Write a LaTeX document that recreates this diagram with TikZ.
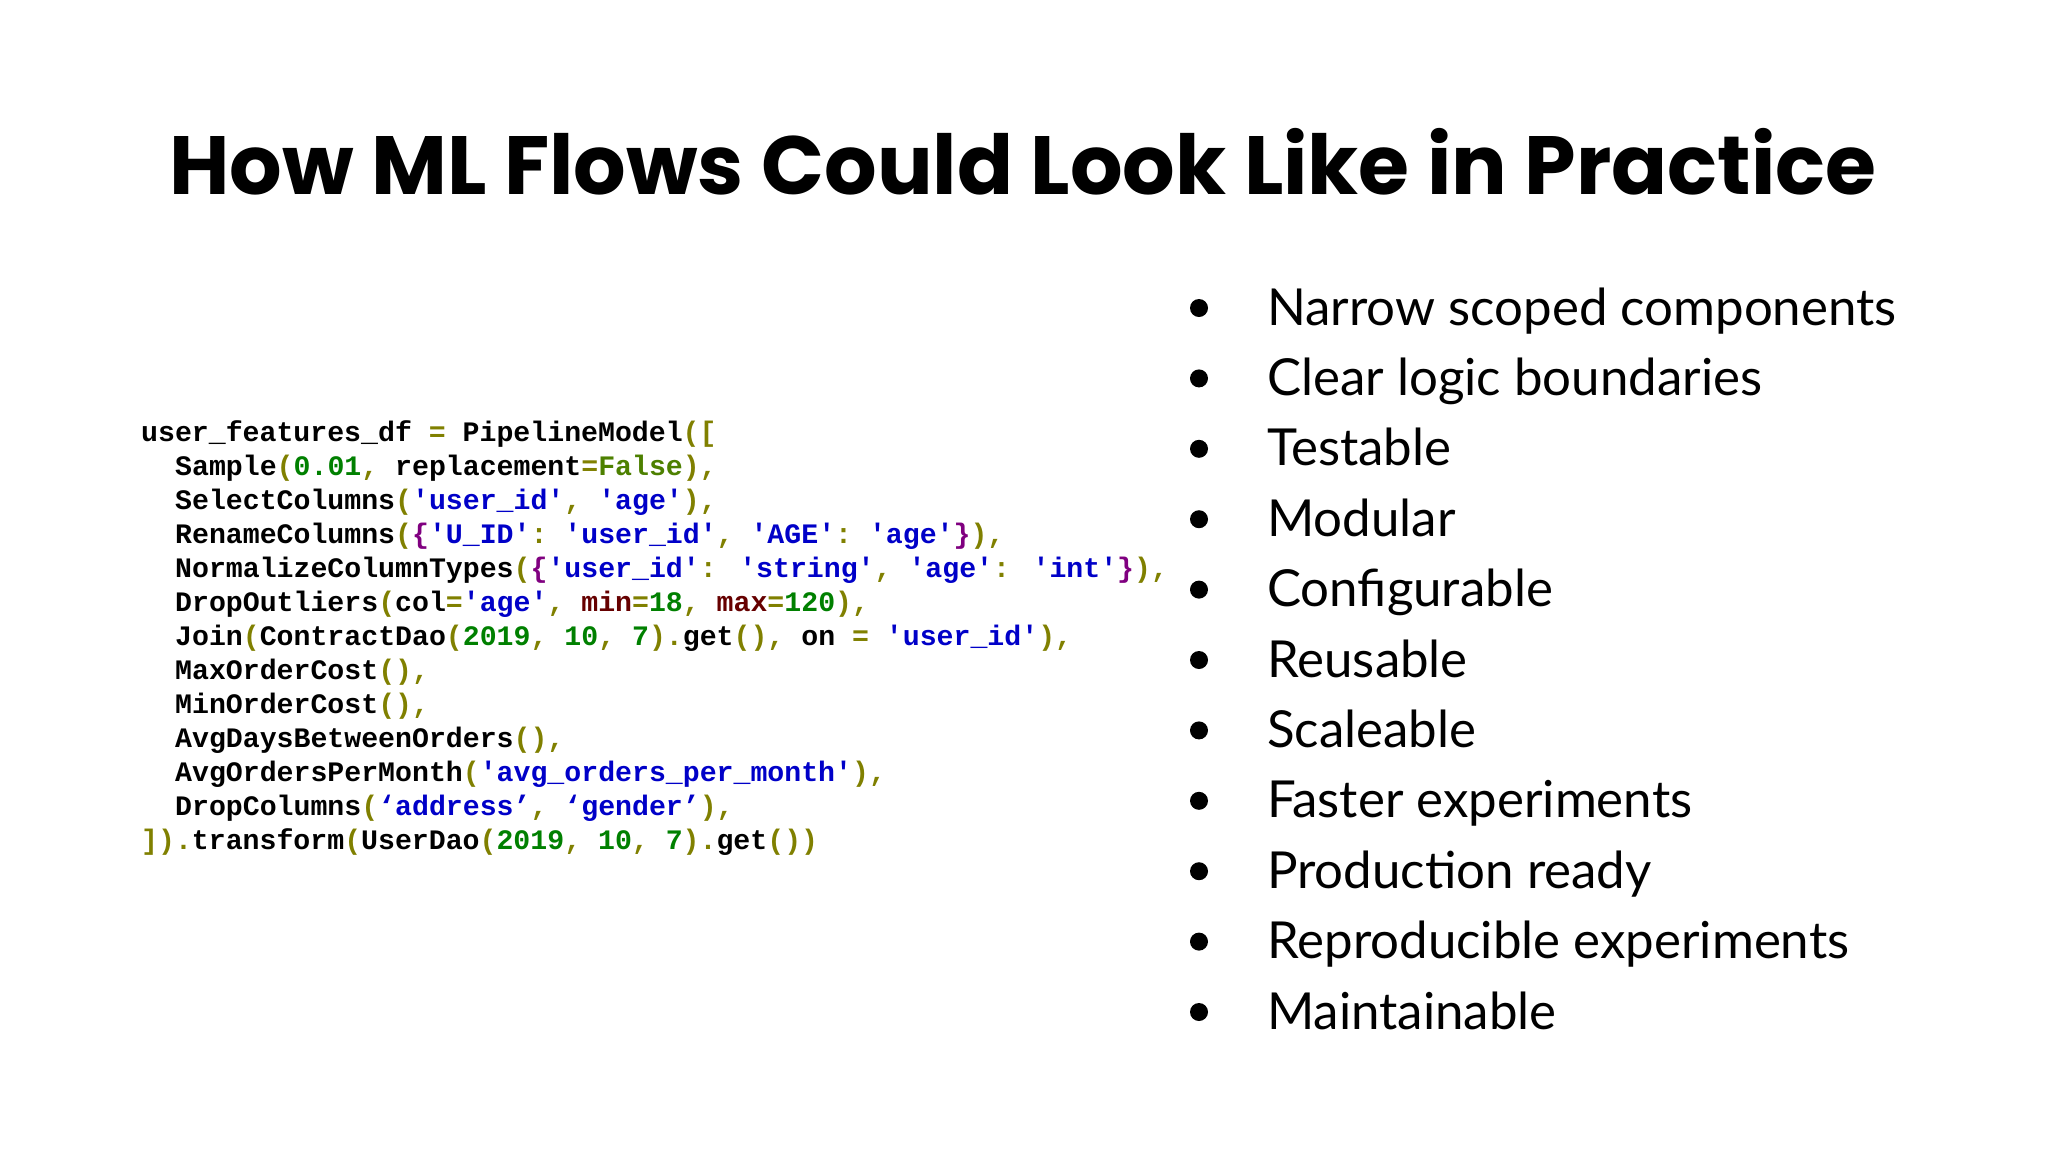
\documentclass[tikz,border=0pt]{standalone}
\usepackage{fontspec}
\setmainfont{Lato}
\newfontfamily\codefont{Liberation Mono}
\newfontfamily\titlefont{Poppins}
\definecolor{cpar}{HTML}{808000}
\definecolor{cnum}{HTML}{008000}
\definecolor{cstr}{HTML}{0000C8}
\definecolor{cbr}{HTML}{800080}
\definecolor{ckw}{HTML}{660000}
\newcommand{\Pp}[1]{\textcolor{cpar}{#1}}
\newcommand{\Nn}[1]{\textcolor{cnum}{#1}}
\newcommand{\Ss}[1]{\textcolor{cstr}{\char"0027 #1\char"0027}}
\newcommand{\Sq}[1]{\textcolor{cstr}{‘#1’}}
\newcommand{\Bb}[1]{\textcolor{cbr}{#1}}
\newcommand{\Kk}[1]{\textcolor{ckw}{#1}}
\begin{document}
\begin{tikzpicture}[x=1pt,y=-1pt,
  codeline/.style={anchor=base west,inner sep=0pt,font=\codefont\bfseries\fontsize{28.2}{34}\selectfont},
  bul/.style={anchor=base west,inner sep=0pt,font=\fontsize{51}{56}\selectfont}]
\useasboundingbox[fill=white] (0,0) rectangle (2048,1152);
\node[inner sep=0pt] (title) at (1023,162) {\resizebox{1707pt}{!}{\titlefont\bfseries How ML Flows Could Look Like in Practice}};
\node[codeline] (c0) at (141,441) {user\_features\_df \Pp{=} PipelineModel\Pp{([}};
\node[codeline] (c1) at (175,475) {Sample\Pp{(}\Nn{0.01}\Pp{,} replacement\Pp{=}\textcolor{cpar!60!cnum}{False}\Pp{),}};
\node[codeline] (c2) at (175,509) {SelectColumns\Pp{(}\Ss{user\_id}\Pp{,} \Ss{age}\Pp{),}};
\node[codeline] (c3) at (175,543) {RenameColumns\Pp{(}\Bb{\{}\Ss{U\_ID}\Pp{:} \Ss{user\_id}\Pp{,} \Ss{AGE}\Pp{:} \Ss{age}\Bb{\}}\Pp{),}};
\node[codeline] (c4) at (175,577) {NormalizeColumnTypes\Pp{(}\Bb{\{}\Ss{user\_id}\Pp{:} \Ss{string}\Pp{,} \Ss{age}\Pp{:} \Ss{int}\Bb{\}}\Pp{),}};
\node[codeline] (c5) at (175,611) {DropOutliers\Pp{(}col\Pp{=}\Ss{age}\Pp{,} \Kk{min}\Pp{=}\Nn{18}\Pp{,} \Kk{max}\Pp{=}\Nn{120}\Pp{),}};
\node[codeline] (c6) at (175,645) {Join\Pp{(}ContractDao\Pp{(}\Nn{2019}\Pp{,} \Nn{10}\Pp{,} \Nn{7}\Pp{).}get\Pp{(),} on \Pp{=} \Ss{user\_id}\Pp{),}};
\node[codeline] (c7) at (175,679) {MaxOrderCost\Pp{(),}};
\node[codeline] (c8) at (175,713) {MinOrderCost\Pp{(),}};
\node[codeline] (c9) at (175,747) {AvgDaysBetweenOrders\Pp{(),}};
\node[codeline] (c10) at (175,781) {AvgOrdersPerMonth\Pp{(}\Ss{avg\_orders\_per\_month}\Pp{),}};
\node[codeline] (c11) at (175,815) {DropColumns\Pp{(}\Sq{address}\Pp{,} \Sq{gender}\Pp{),}};
\node[codeline] (c12) at (141,849) {\Pp{]).}transform\Pp{(}UserDao\Pp{(}\Nn{2019}\Pp{,} \Nn{10}\Pp{,} \Nn{7}\Pp{).}get\Pp{())}};
\foreach \t [count=\k from 0] in {Narrow scoped components,Clear logic boundaries,Testable,Modular,Configurable,Reusable,Scaleable,Faster experiments,Production ready,Reproducible experiments,Maintainable}{
  \fill (1199,308+70.4*\k) circle (9);
  \node[bul] (b\k) at (1267,325+70.4*\k) {\t};
}
\end{tikzpicture}
\end{document}
